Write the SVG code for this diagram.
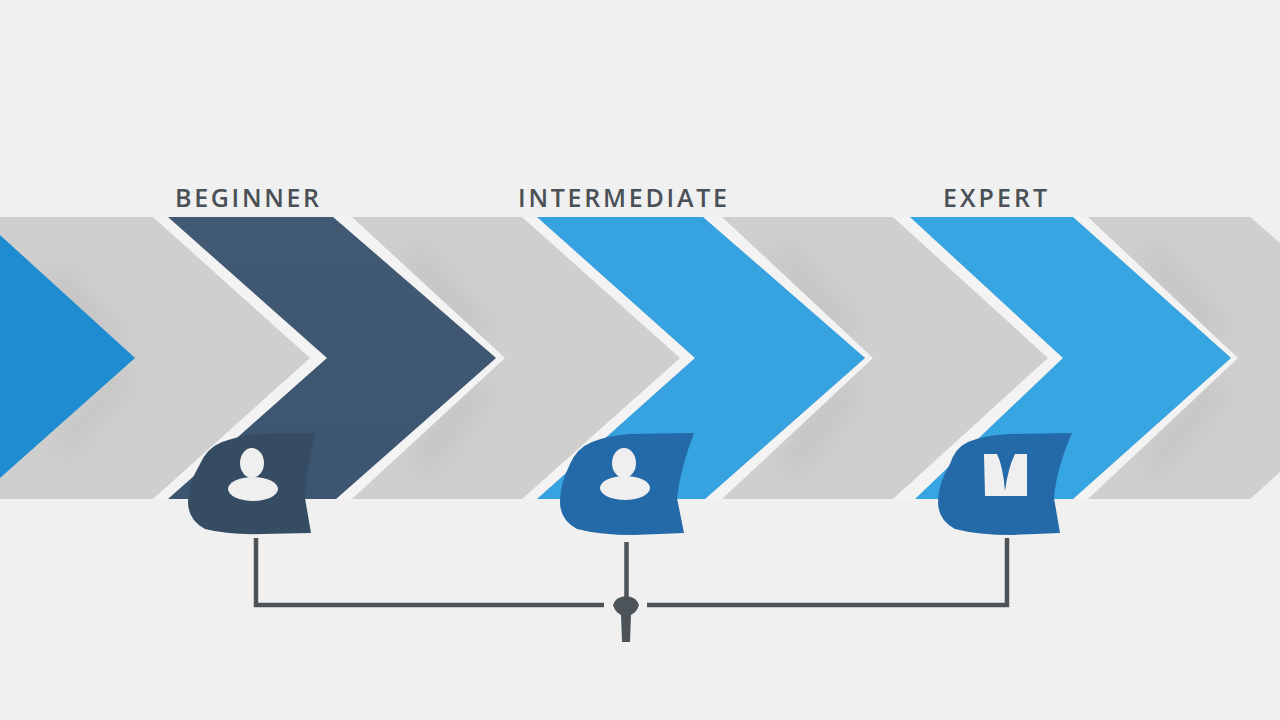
<svg xmlns="http://www.w3.org/2000/svg" width="1280" height="720" viewBox="0 0 1280 720">
<style>
.lbl{font-family:"Open Sans","Liberation Sans",sans-serif;font-size:25px;font-weight:600;fill:#4a5056}
.gap{fill:#f3f3f3}
.ico{fill:#efefef}
.wire{fill:none;stroke:#4d5459;stroke-width:4.5}
</style>
<defs>
<filter id="blur" x="-30%" y="-30%" width="160%" height="160%"><feGaussianBlur stdDeviation="12"/></filter>
<linearGradient id="dark" x1="0" y1="0" x2="0" y2="1"><stop offset="0" stop-color="#415973"/><stop offset="1" stop-color="#3c5570"/></linearGradient>
</defs>
<rect width="1280" height="720" fill="#f0f0f0"/>
<g id="band">
<path d="M0 217H1250L1280 243V472L1250 499H0Z" fill="#cfcfcf"/>
<g fill="#9a9a9a" opacity=".22" filter="url(#blur)">
<path d="M50 270L120 345L70 300Z M60 450L125 375L80 425Z" stroke="#9a9a9a" stroke-width="18"/>
<path d="M410 250L485 335L440 295Z M420 470L485 385L440 430Z" stroke="#9a9a9a" stroke-width="18"/>
<path d="M780 250L855 335L810 295Z M790 470L855 385L810 430Z" stroke="#9a9a9a" stroke-width="18"/>
<path d="M1150 250L1222 335L1180 295Z M1150 470L1222 385L1180 430Z" stroke="#9a9a9a" stroke-width="18"/>
</g>
</g>
<g id="chevron-0"><path d="M0 235L135 358L0 478Z" fill="#1f8bd0"/></g>
<g id="chevron-beginner">
<path class="gap" d="M153 217H168L327 358L168 499H153L310 358Z"/>
<path class="gap" d="M333 217H352L505 358L352 499H336L496 358Z"/>
<path d="M168 217H333L496 358L336 499H168L327 358Z" fill="url(#dark)"/>
</g>
<g id="chevron-intermediate">
<path class="gap" d="M522 217H537L695 358L537 499H522L680 358Z"/>
<path class="gap" d="M703 217H722L873 358L722 499H705L865 358Z"/>
<path d="M537 217H703L865 358L705 499H537L695 358Z" fill="#36a3e0"/>
</g>
<g id="chevron-expert">
<path class="gap" d="M893 217H910L1063 358L915 499H893L1048 358Z"/>
<path class="gap" d="M1073 217H1088L1238 358L1088 499H1073L1231 358Z"/>
<path d="M910 217H1073L1231 358L1073 499H915L1063 358Z" fill="#36a5e2"/>
</g>
<g id="connectors">
<path class="wire" d="M256 538V605H604"/>
<path class="wire" d="M1007 538V605H647"/>
<path class="wire" d="M626.500 542V600"/>
<path d="M613 605Q615 597 626 596Q637 597 639 605Q637 612 631 615L630 642H622L621 615Q615 612 613 605Z" fill="#4d5459"/>
</g>
<g id="badge-beginner">
<path d="M316 433L262 434Q240 435 222 442Q207 448 200 464Q188 484 188 502Q188 520 205 529Q228 535 262 534L311 533L305 498Q306 470 316 433Z" fill="#364c63"/>
<ellipse class="ico" cx="252" cy="463" rx="12" ry="15"/>
<ellipse class="ico" cx="253" cy="489" rx="25" ry="12"/>
</g>
<g id="badge-intermediate">
<path d="M694 433L630 434Q610 435 592 442Q577 448 570 464Q560 484 560 502Q560 520 577 529Q600 535 634 535L684 533L677 498Q680 470 694 433Z" fill="#2469a8"/>
<ellipse class="ico" cx="624" cy="463" rx="12" ry="15"/>
<ellipse class="ico" cx="625" cy="488" rx="25" ry="12"/>
</g>
<g id="badge-expert">
<path d="M1072 433L1010 434Q985 435 968 442Q955 448 950 464Q938 484 938 502Q938 520 955 529Q978 535 1012 535L1060 533L1054 498Q1056 470 1072 433Z" fill="#2469a8"/>
<path class="ico" d="M984 454H997Q1003 466 1005 491Q1008 468 1015 454H1027V496H985Z"/>
</g>
<g id="labels">
<text class="lbl" x="175" y="207" textLength="144" lengthAdjust="spacing">BEGINNER</text>
<text class="lbl" x="518" y="207" textLength="209" lengthAdjust="spacing">INTERMEDIATE</text>
<text class="lbl" x="943" y="207" textLength="104" lengthAdjust="spacing">EXPERT</text>
</g>
</svg>
